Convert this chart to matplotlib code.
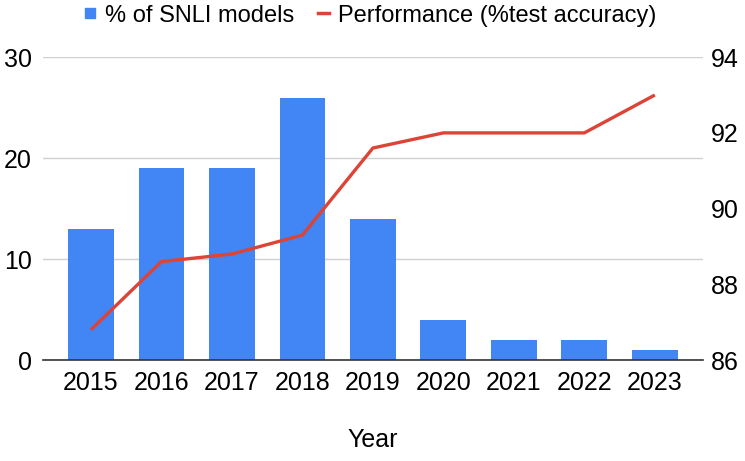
import matplotlib
matplotlib.use("Agg")
import matplotlib.pyplot as plt
from matplotlib.lines import Line2D

years = ["2015", "2016", "2017", "2018", "2019", "2020", "2021", "2022", "2023"]
pct_models = [13, 19, 19, 26, 14, 4, 2, 2, 1]
performance = [86.8, 88.6, 88.8, 89.3, 91.6, 92.0, 92.0, 92.0, 93.0]
left_ticks = [0, 10, 20, 30]
right_ticks = [86, 88, 90, 92, 94]

BLUE = "#4285F4"
RED = "#DB4437"

plt.rcParams["font.family"] = ["Liberation Sans", "DejaVu Sans"]

fig = plt.figure(figsize=(7.45, 4.61), dpi=100)
ax = fig.add_axes([0.0573, 0.219, 0.886, 0.657])
x = list(range(len(years)))
ax.bar(x, pct_models, width=0.65, color=BLUE, zorder=2)
ax.set_xlim(-0.685, 8.68)
ax.set_ylim(0, 30)
ax.set_yticks(left_ticks)
ax.set_xticks(x)
ax.set_xticklabels(years)
ax.grid(axis="y", color="#D0D0D0", linewidth=1, zorder=0)
ax.set_axisbelow(True)
for s in ["top", "right", "left"]:
    ax.spines[s].set_visible(False)
ax.spines["bottom"].set_color("#333333")
ax.spines["bottom"].set_linewidth(1.2)
ax.spines["bottom"].set_zorder(3)
ax.tick_params(axis="both", length=0, labelsize=18, colors="#000000")
ax.tick_params(axis="y", pad=8)
ax.tick_params(axis="x", pad=8)
ax.set_xlabel("Year", fontsize=18, labelpad=24)

ax2 = ax.twinx()
ax2.plot(x, performance, color=RED, linewidth=2.4, zorder=4, solid_capstyle="butt")
ax2.set_ylim(86, 94)
ax2.set_yticks(right_ticks)
for s in ax2.spines.values():
    s.set_visible(False)
ax2.tick_params(axis="y", length=0, labelsize=18, pad=6)

handles = [
    Line2D([], [], linestyle="none", marker="s", markersize=7, color=BLUE),
    Line2D([], [], color=RED, linewidth=2.5),
]
labels = ["% of SNLI models", "Performance (%test accuracy)"]
fig.legend(handles, labels, loc="center", bbox_to_anchor=(0.497, 0.966), ncol=2,
           frameon=False, fontsize=17, handlelength=0.5, handletextpad=0.35,
           columnspacing=1.0)

fig.savefig("out.png", dpi=100)
